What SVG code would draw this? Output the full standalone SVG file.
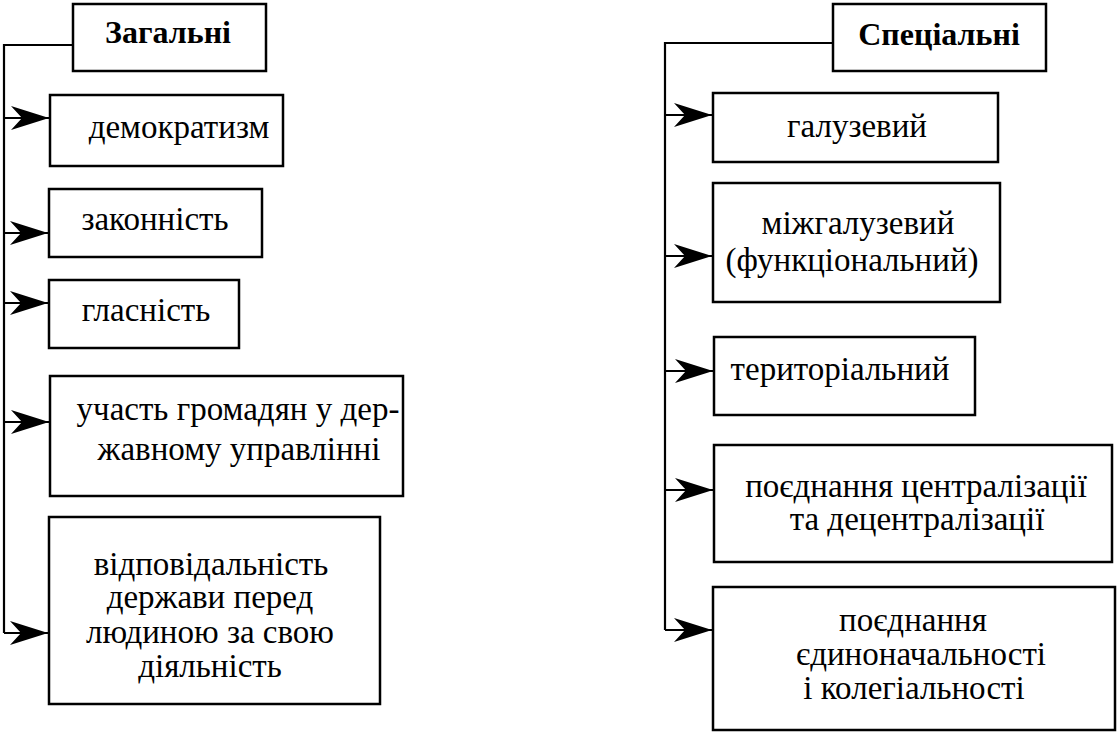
<svg xmlns="http://www.w3.org/2000/svg" width="1119" height="732" viewBox="0 0 1119 732">
<style>
.b{fill:#fff;stroke:#000;stroke-width:2.5}
.c{fill:none;stroke:#000;stroke-width:2.2}
.t{font-size:33px;fill:#000;text-anchor:middle}
.h{font-weight:bold;font-size:32px}
</style>
<defs>
<marker id="ar" markerUnits="userSpaceOnUse" markerWidth="42" markerHeight="28" refX="38" refY="13" orient="auto" viewBox="0 0 42 28">
<path d="M38,13 L0,1 L11,13 L0,25 Z" fill="#000"/>
</marker>
</defs>
<rect width="1119" height="732" fill="#fff"/>
<g id="connectors">
<path class="c" d="M73,45 H4 V633"/>
<path class="c" d="M4,118 H49" marker-end="url(#ar)"/>
<path class="c" d="M4,233 H48" marker-end="url(#ar)"/>
<path class="c" d="M4,303 H48" marker-end="url(#ar)"/>
<path class="c" d="M4,422 H49" marker-end="url(#ar)"/>
<path class="c" d="M4,633 H48" marker-end="url(#ar)"/>
<path class="c" d="M833,43 H665 V630"/>
<path class="c" d="M665,115 H712" marker-end="url(#ar)"/>
<path class="c" d="M665,256 H712" marker-end="url(#ar)"/>
<path class="c" d="M665,371 H713" marker-end="url(#ar)"/>
<path class="c" d="M665,490 H713" marker-end="url(#ar)"/>
<path class="c" d="M665,630 H712" marker-end="url(#ar)"/>
</g>
<g class="t" font-family="Liberation Serif, Times New Roman, DejaVu Serif, serif">
<g id="zagalni"><rect class="b" x="73" y="4" width="193" height="67"/><text class="h" x="168" y="43">Загальні</text></g>
<g id="demokratyzm"><rect class="b" x="50" y="95" width="233" height="71"/><text x="179" y="138">демократизм</text></g>
<g id="zakonnist"><rect class="b" x="49" y="189" width="213" height="68"/><text x="155" y="230">законність</text></g>
<g id="hlasnist"><rect class="b" x="49" y="280" width="190" height="68"/><text x="146" y="321">гласність</text></g>
<g id="uchast"><rect class="b" x="50" y="376" width="353" height="120"/><text x="238" y="420">участь громадян у дер-</text><text x="239" y="460">жавному управлінні</text></g>
<g id="vidpovidalnist"><rect class="b" x="49" y="517" width="331" height="187"/><text x="211" y="575">відповідальність</text><text x="210" y="608">держави перед</text><text x="210" y="643">людиною за свою</text><text x="210" y="677">діяльність</text></g>
<g id="spetsialni"><rect class="b" x="833" y="4" width="213" height="67"/><text class="h" x="939" y="45">Спеціальні</text></g>
<g id="haluzevyi"><rect class="b" x="713" y="93" width="285" height="69"/><text x="857" y="137">галузевий</text></g>
<g id="mizhhaluzevyi"><rect class="b" x="713" y="183" width="287" height="119"/><text x="858" y="234">міжгалузевий</text><text x="852" y="271">(функціональний)</text></g>
<g id="terytorialnyi"><rect class="b" x="714" y="337" width="261" height="78"/><text x="840" y="380">територіальний</text></g>
<g id="tsentralizatsii"><rect class="b" x="714" y="445" width="398" height="117"/><text x="916" y="497">поєднання централізації</text><text x="917" y="530">та децентралізації</text></g>
<g id="kolehialnosti"><rect class="b" x="713" y="587" width="402" height="143"/><text x="913" y="631">поєднання</text><text x="921" y="665">єдиноначальності</text><text x="914" y="699">і колегіальності</text></g>
</g>
</svg>
